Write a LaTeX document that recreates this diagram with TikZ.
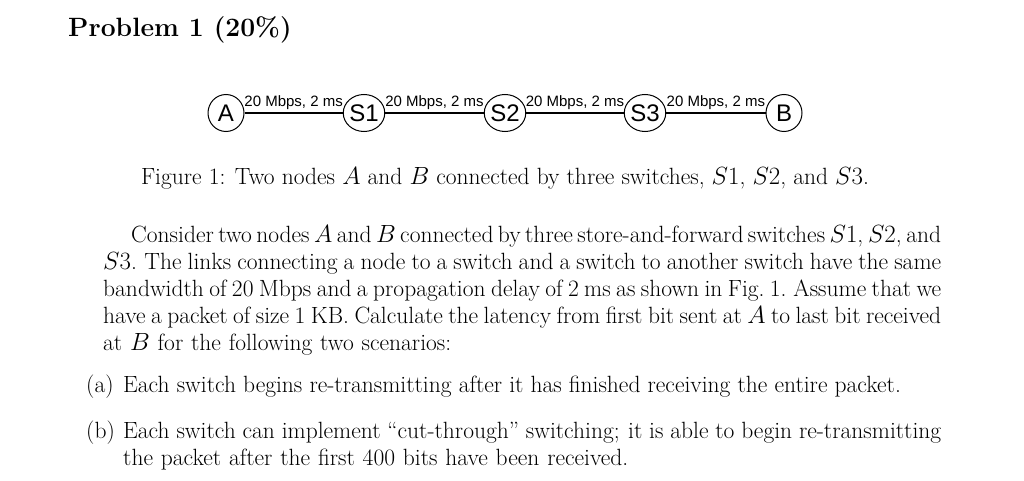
\documentclass[tikz,border=0pt]{standalone}
\usepackage{fontspec}
\newfontfamily\arial{Liberation Sans}
\usetikzlibrary{shapes.geometric}
\newcommand\tightsp{\spaceskip=3.5pt plus 20pt minus 1pt\relax\xspaceskip=5pt plus 20pt\relax}
\newcommand\fl[1]{\makebox[\linewidth][s]{\tightsp#1}\\}
\tikzset{nd/.style={draw,ellipse,line width=1pt,minimum width=36pt,minimum height=37pt,inner sep=0pt,font=\arial\fontsize{24}{24}\selectfont},
lk/.style={line width=1.2pt},
lab/.style={font=\arial\fontsize{15}{15}\selectfont,inner sep=1pt},
tx/.style={inner sep=0pt,font=\fontsize{23.5}{27}\selectfont}}
\begin{document}
\begin{tikzpicture}[x=1pt,y=1pt]
\useasboundingbox (0,0) rectangle (1024,-481);
\node[anchor=base west,inner sep=0pt,font=\fontsize{26.5}{30}\selectfont\bfseries] (t) at (68,-37) {Problem 1 (20\%)};
\node[nd] (A) at (226,-113) {A};
\node[nd] (S1) at (364,-113) {S1};
\node[nd] (S2) at (505,-113) {S2};
\node[nd] (S3) at (645,-113) {S3};
\node[nd] (B) at (784,-113) {B};
\foreach \u/\v in {A/S1,S1/S2,S2/S3,S3/B}{
\draw[lk] (\u) -- node[lab,above,yshift=2pt]{20 Mbps, 2 ms} (\v);}
\node[tx,anchor=base] (cap) at (505,-185) {Figure 1: Two nodes $A$ and $B$ connected by three switches, $S1$, $S2$, and $S3$.};
\node[tx,anchor=north west,text width=838pt,align=left] (body) at (103,-225) {\fl{\hspace*{28pt}Consider two nodes $A$ and $B$ connected by three store-and-forward switches $S1$, $S2$, and}\fl{$S3$. The links connecting a node to a switch and a switch to another switch have the same}\fl{bandwidth of 20 Mbps and a propagation delay of 2 ms as shown in Fig.~1. Assume that we}\fl{have a packet of size 1 KB. Calculate the latency from first bit sent at $A$ to last bit received}at $B$ for the following two scenarios:};
\node[tx,anchor=base west] (ia) at (86,-392) {(a)};
\node[tx,anchor=base west] (ta) at (123,-392) {Each switch begins re-transmitting after it has finished receiving the entire packet.};
\node[tx,anchor=base west] (ib) at (86,-438) {(b)};
\node[tx,anchor=north west,text width=818pt,align=left] (tb) at (123,-422) {\fl{Each switch can implement ``cut-through'' switching; it is able to begin re-transmitting}the packet after the first 400 bits have been received.};
\end{tikzpicture}
\end{document}
